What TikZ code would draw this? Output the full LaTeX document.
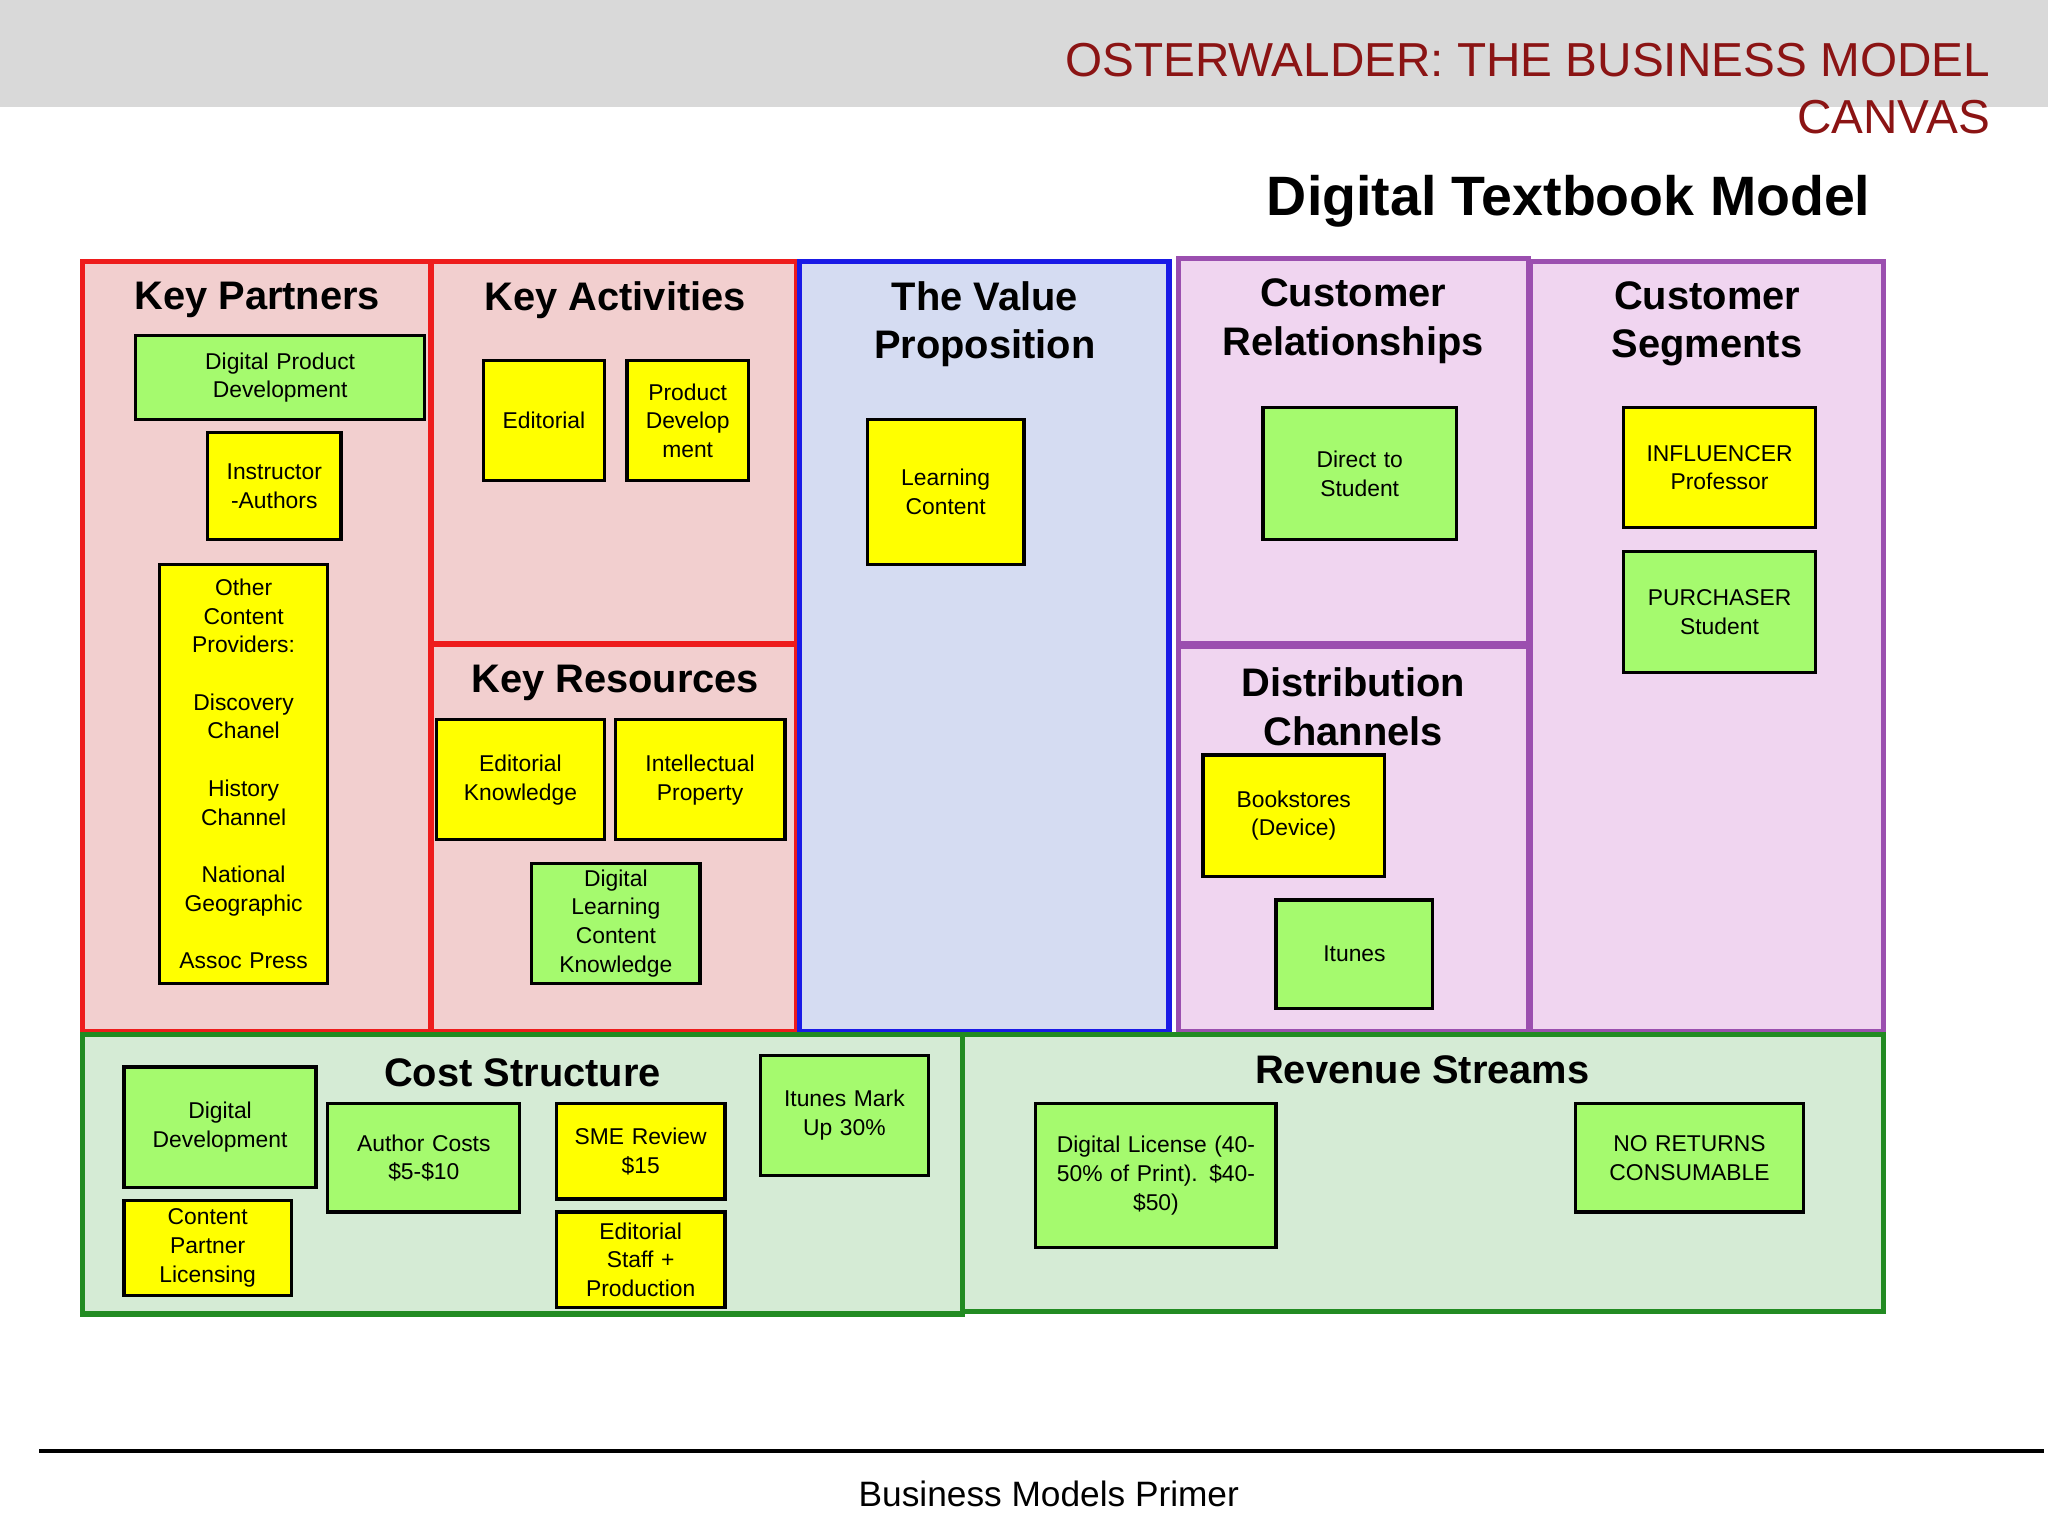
\documentclass[tikz,border=0pt]{standalone}
\usepackage{fontspec}
\setmainfont{Liberation Sans}
\definecolor{hdr}{HTML}{D9D9D9}
\definecolor{dred}{HTML}{8B1414}
\definecolor{kred}{HTML}{EE1C1C}
\definecolor{kpink}{HTML}{F2CFCF}
\definecolor{kblue}{HTML}{1A1AE6}
\definecolor{lblue}{HTML}{D5DCF2}
\definecolor{kpur}{HTML}{9B4FAF}
\definecolor{lpur}{HTML}{F0D5F0}
\definecolor{kgrn}{HTML}{228B22}
\definecolor{lgrn}{HTML}{D5EBD5}
\definecolor{bgrn}{HTML}{A5FA6E}
\definecolor{byel}{HTML}{FFFF00}
\newcommand{\bx}[7]{\node[#6, minimum width={(#4-#2)*1pt}, minimum height={(#5-#3)*1pt}, text width={(#4-#2-8)*1pt}] (#1) at ({(#2+#4)/2},{(#3+#5)/2}) {#7};}
\tikzset{
 note/.style={draw=black, line width=2.5pt, inner sep=0pt, outer sep=0pt, align=center, font=\fontsize{17.5}{22}\selectfont},
 yb/.style={note, fill=byel},
 gb/.style={note, fill=bgrn},
 ttl/.style={font=\fontsize{30.5}{37}\selectfont\bfseries, align=center},
}
\begin{document}
\begin{tikzpicture}[x=1pt,y=-1pt]
\useasboundingbox (0,0) rectangle (1568,1176);
\fill[hdr] (0,0) rectangle (1568,82);
\node[anchor=east, text=dred, align=right, font=\fontsize{36.5}{44}\selectfont] (hd) at (1527,68) {OSTERWALDER: THE BUSINESS MODEL\\CANVAS};
\node[font=\fontsize{42.5}{50}\selectfont\bfseries] (sub) at (1201,154) {Digital Textbook Model};
% areas
\draw[kred, line width=4pt, fill=kpink] (63,200) rectangle (330,790);
\draw[kred, line width=4pt, fill=kpink] (330,200) rectangle (610,493);
\draw[kred, line width=4pt, fill=kpink] (330,493) rectangle (610,790);
\draw[kblue, line width=4pt, fill=lblue] (612,200) rectangle (895,790);
\draw[kpur, line width=4pt, fill=lpur] (902,198) rectangle (1170,493);
\draw[kpur, line width=4pt, fill=lpur] (902,495) rectangle (1170,790);
\draw[kpur, line width=4pt, fill=lpur] (1172,200) rectangle (1442,790);
\draw[kgrn, line width=4pt, fill=lgrn] (63,792) rectangle (737,1006);
\draw[kgrn, line width=4pt, fill=lgrn] (737,792) rectangle (1442,1004);
% titles
\node[ttl] (t1) at (197,230) {Key Partners};
\node[ttl] (t2) at (471,230) {Key Activities};
\node[ttl] (t3) at (471,523) {Key Resources};
\node[ttl] (t4) at (754,248) {The Value\\Proposition};
\node[ttl] (t5) at (1036,246) {Customer\\Relationships};
\node[ttl] (t6) at (1036,541) {Distribution\\Channels};
\node[ttl] (t7) at (1307,248) {Customer\\Segments};
\node[ttl] (t8) at (400,821) {Cost Structure};
\node[ttl] (t9) at (1089,819) {Revenue Streams};
% notes
\bx{a1}{104}{257}{325}{321}{gb}{Digital Product\\Development}
\bx{a2}{159}{331}{261}{413}{yb}{Instructor\\-Authors}
\bx{a3}{122}{432}{251}{753}{yb}{Other\\Content\\Providers:\\[22pt]Discovery\\Chanel\\[22pt]History\\Channel\\[22pt]National\\Geographic\\[22pt]Assoc Press}
\bx{b1}{370}{276}{463}{368}{yb}{Editorial}
\bx{b2}{480}{276}{573}{368}{yb}{Product\\Develop\\ment}
\bx{c1}{334}{551}{463}{643}{yb}{Editorial\\Knowledge}
\bx{c2}{471}{551}{601}{643}{yb}{Intellectual\\Property}
\bx{c3}{407}{661}{536}{753}{gb}{Digital\\Learning\\Content\\Knowledge}
\bx{d1}{664}{321}{784}{432}{yb}{Learning\\Content}
\bx{e1}{967}{312}{1115}{413}{gb}{Direct to\\Student}
\bx{f1}{921}{578}{1060}{671}{yb}{Bookstores\\(Device)}
\bx{f2}{977}{689}{1097}{772}{gb}{Itunes}
\bx{g1}{1243}{312}{1390}{404}{yb}{INFLUENCER\\Professor}
\bx{g2}{1243}{422}{1390}{515}{gb}{PURCHASER\\Student}
\bx{h1}{95}{817}{242}{909}{gb}{Digital\\Development}
\bx{h2}{251}{845}{398}{928}{gb}{Author Costs\\\$5-\$10}
\bx{h3}{426}{845}{555}{918}{yb}{SME Review\\\$15}
\bx{h4}{582}{808}{711}{900}{gb}{Itunes Mark\\Up 30\%}
\bx{h5}{95}{919}{223}{992}{yb}{Content\\Partner\\Licensing}
\bx{h6}{426}{928}{555}{1001}{yb}{Editorial\\Staff +\\Production}
\bx{i1}{793}{845}{977}{955}{gb}{Digital License (40-\\50\% of Print). \$40-\\\$50)}
\bx{i2}{1206}{845}{1381}{928}{gb}{NO RETURNS\\CONSUMABLE}
% footer
\coordinate (l1) at (30,1111);
\coordinate (l2) at (1565,1111);
\draw[line width=2.5pt] (l1) -- (l2);
\node[font=\fontsize{27}{30}\selectfont] (ft) at (803,1144) {Business Models Primer};
\end{tikzpicture}
\end{document}
